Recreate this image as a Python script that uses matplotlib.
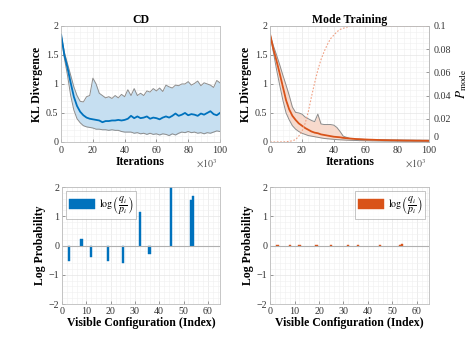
import numpy as np
import matplotlib.pyplot as plt
from matplotlib.ticker import MultipleLocator

plt.rcParams['font.family'] = ['Liberation Serif', 'DejaVu Serif']
plt.rcParams['mathtext.fontset'] = 'stix'

# iterations (x10^3)
iters = list(range(0, 101, 2))

cd_mean = [1.85, 1.50, 1.28, 1.02, 0.78, 0.62, 0.52, 0.46, 0.42, 0.40,
           0.39, 0.38, 0.37, 0.34, 0.36, 0.36, 0.37, 0.37, 0.38, 0.37,
           0.38, 0.40, 0.45, 0.41, 0.44, 0.41, 0.42, 0.44, 0.40, 0.42,
           0.41, 0.39, 0.42, 0.44, 0.42, 0.45, 0.49, 0.45, 0.47, 0.50,
           0.46, 0.48, 0.47, 0.45, 0.49, 0.47, 0.50, 0.53, 0.48, 0.46, 0.50]
cd_upper = [1.85, 1.55, 1.35, 1.15, 0.95, 0.80, 0.70, 0.69, 0.78, 0.80,
            1.10, 1.00, 0.84, 0.80, 0.76, 0.78, 0.75, 0.80, 0.76, 0.82,
            0.78, 0.90, 0.80, 0.92, 0.80, 0.84, 0.80, 0.88, 0.86, 0.92,
            0.88, 0.93, 0.87, 0.98, 0.95, 0.93, 0.98, 0.97, 1.00, 1.00,
            1.04, 0.98, 1.01, 1.05, 0.97, 1.02, 1.00, 0.98, 0.94, 1.06, 1.02]
cd_lower = [1.85, 1.45, 1.15, 0.80, 0.55, 0.40, 0.33, 0.28, 0.26, 0.25,
            0.24, 0.22, 0.22, 0.21, 0.21, 0.20, 0.21, 0.20, 0.20, 0.18,
            0.17, 0.17, 0.17, 0.15, 0.16, 0.14, 0.15, 0.13, 0.15, 0.13,
            0.14, 0.12, 0.14, 0.13, 0.11, 0.14, 0.12, 0.15, 0.17, 0.16,
            0.18, 0.16, 0.17, 0.15, 0.16, 0.14, 0.16, 0.15, 0.17, 0.19, 0.18]

mode_mean = [1.85, 1.60, 1.40, 1.18, 0.95, 0.72, 0.56, 0.45, 0.38, 0.32,
             0.28, 0.24, 0.21, 0.18, 0.16, 0.15, 0.13, 0.12, 0.11, 0.10,
             0.09, 0.085, 0.08, 0.07, 0.065, 0.06, 0.055, 0.05, 0.048, 0.045,
             0.042, 0.04, 0.038, 0.036, 0.034, 0.032, 0.031, 0.03, 0.029, 0.028,
             0.027, 0.026, 0.025, 0.024, 0.024, 0.023, 0.022, 0.022, 0.021, 0.021, 0.02]
mode_upper = [1.85, 1.66, 1.50, 1.33, 1.15, 0.98, 0.80, 0.60, 0.51, 0.50,
              0.48, 0.43, 0.40, 0.37, 0.35, 0.48, 0.31, 0.30, 0.30, 0.30,
              0.29, 0.25, 0.18, 0.10, 0.08, 0.06, 0.055, 0.05, 0.047, 0.045,
              0.043, 0.042, 0.041, 0.04, 0.039, 0.038, 0.037, 0.036, 0.035, 0.035,
              0.034, 0.034, 0.033, 0.033, 0.032, 0.032, 0.031, 0.031, 0.03, 0.03, 0.03]
mode_lower = [1.85, 1.55, 1.25, 0.98, 0.72, 0.50, 0.38, 0.28, 0.22, 0.18,
              0.15, 0.13, 0.11, 0.10, 0.09, 0.08, 0.07, 0.06, 0.055, 0.05,
              0.045, 0.04, 0.037, 0.034, 0.031, 0.029, 0.027, 0.025, 0.023, 0.022,
              0.021, 0.02, 0.019, 0.018, 0.017, 0.016, 0.015, 0.015, 0.014, 0.014,
              0.013, 0.013, 0.012, 0.012, 0.012, 0.011, 0.011, 0.011, 0.01, 0.01, 0.01]
p_mode = [0, 0, 0, 0, 0, 0.0002, 0.0005, 0.001, 0.002, 0.005,
          0.009, 0.016, 0.026, 0.039, 0.051, 0.062, 0.071, 0.078, 0.084, 0.089,
          0.092, 0.095, 0.097, 0.098, 0.099, 0.0995, 0.1, 0.1, 0.1, 0.1,
          0.1, 0.1, 0.1, 0.1, 0.1, 0.1, 0.1, 0.1, 0.1, 0.1,
          0.1, 0.1, 0.1, 0.1, 0.1, 0.1, 0.1, 0.1, 0.1, 0.1, 0.1]

# visible configurations with nonzero log ratio
config_idx = [3, 8, 12, 19, 25, 32, 36, 45, 53, 54]
log_ratio_cd = [-0.52, 0.22, -0.38, -0.52, -0.58, 1.15, -0.29, 2.3, 1.57, 1.70]
log_ratio_mode = [0.02, 0.01, 0.02, 0.02, 0.01, 0.02, 0.01, 0.02, 0.03, 0.04]

blue = '#0072BD'
orange = '#D95319'
band_edge = '#8c8c8c'
spine_c = '#bdbdbd'
lab_fs = 8.5
tick_fs = 7.2
legend_label = r'$\log\left(\dfrac{q_i}{p_i}\right)$'


def style(ax):
    ax.grid(True, which='major', color='#e6e6e6', lw=0.5)
    ax.grid(True, which='minor', color='#f0f0f0', lw=0.4)
    ax.set_axisbelow(True)
    for s in ax.spines.values():
        s.set_color(spine_c)
        s.set_linewidth(0.6)
    ax.tick_params(which='both', direction='in', colors='#555555',
                   labelsize=tick_fs, labelcolor='#333333', length=2, width=0.4,
                   pad=2)
    ax.tick_params(which='minor', length=0)


def kl_panel(ax, mean, lower, upper, color, fill, title):
    ax.fill_between(iters, lower, upper, color=fill, lw=0)
    ax.plot(iters, upper, color=band_edge, lw=0.7)
    ax.plot(iters, lower, color=band_edge, lw=0.7)
    ax.plot(iters, mean, color=color, lw=1.3)
    ax.set_xlim(0, 100)
    ax.set_ylim(0, 2)
    ax.xaxis.set_major_locator(MultipleLocator(20))
    ax.xaxis.set_minor_locator(MultipleLocator(4))
    ax.yaxis.set_minor_locator(MultipleLocator(0.1))
    ax.set_yticks([0, 0.5, 1, 1.5, 2], ['0', '0.5', '1', '1.5', '2'])
    ax.set_xlabel('Iterations', fontsize=lab_fs, fontweight='bold', labelpad=1)
    ax.set_ylabel('KL Divergence', fontsize=lab_fs, fontweight='bold', labelpad=2)
    ax.set_title(title, fontsize=lab_fs, fontweight='bold', pad=2)
    ax.text(0.985, -0.19, r'$\times10^3$', transform=ax.transAxes, ha='right',
            va='center', fontsize=tick_fs, color='#555555')
    style(ax)
    ax.tick_params(axis='x', pad=3)


def bar_panel(ax, vals, color, loc):
    ax.bar(config_idx, vals, width=0.9, color=color, edgecolor=color, lw=0.3,
           label=legend_label)
    ax.axhline(0, color='#b0b0b0', lw=0.8, zorder=1)
    ax.set_xlim(0, 65)
    ax.set_ylim(-2, 2)
    ax.xaxis.set_major_locator(MultipleLocator(10))
    ax.xaxis.set_minor_locator(MultipleLocator(2))
    ax.yaxis.set_major_locator(MultipleLocator(1))
    ax.yaxis.set_minor_locator(MultipleLocator(0.2))
    ax.set_xlabel('Visible Configuration (Index)', fontsize=lab_fs,
                  fontweight='bold', labelpad=1)
    ax.set_ylabel('Log Probability', fontsize=lab_fs, fontweight='bold', labelpad=2)
    leg = ax.legend(loc=loc, fontsize=tick_fs, fancybox=False, handlelength=2.6,
                    handleheight=1.1, borderpad=0.3, handletextpad=0.4,
                    borderaxespad=0.4)
    leg.get_frame().set_edgecolor('#999999')
    leg.get_frame().set_linewidth(0.5)
    style(ax)


fig = plt.figure(figsize=(4.74, 3.42), dpi=100)
ax1 = fig.add_axes([0.129, 0.585, 0.335, 0.339])
ax2 = fig.add_axes([0.570, 0.585, 0.335, 0.339])
ax3 = fig.add_axes([0.131, 0.111, 0.333, 0.342])
ax4 = fig.add_axes([0.570, 0.111, 0.335, 0.342])

kl_panel(ax1, cd_mean, cd_lower, cd_upper, blue, '#c6dff1', 'CD')
kl_panel(ax2, mode_mean, mode_lower, mode_upper, orange, '#f7dacd', 'Mode Training')

ax2r = ax2.twinx()
ax2r.plot(iters, p_mode, color='#f0a083', lw=0.8, ls=(0, (1.5, 1.5)))
ax2r.set_ylim(0, 0.1)
ax2r.set_yticks([0, 0.02, 0.04, 0.06, 0.08, 0.1],
                ['0', '0.02', '0.04', '0.06', '0.08', '0.1'])
ax2r.set_ylabel(r'$P_{\mathrm{mode}}$', fontsize=lab_fs + 1, labelpad=2)
for s in ax2r.spines.values():
    s.set_color(spine_c)
    s.set_linewidth(0.6)
ax2r.tick_params(direction='in', colors='#555555', labelsize=tick_fs,
                 labelcolor='#333333', length=2, width=0.4, pad=3.5)
ax2r.get_yticklabels()[0].set_va('bottom')

bar_panel(ax3, log_ratio_cd, blue, 'upper left')
bar_panel(ax4, log_ratio_mode, orange, 'upper right')

fig.savefig('out.png', dpi=100)
